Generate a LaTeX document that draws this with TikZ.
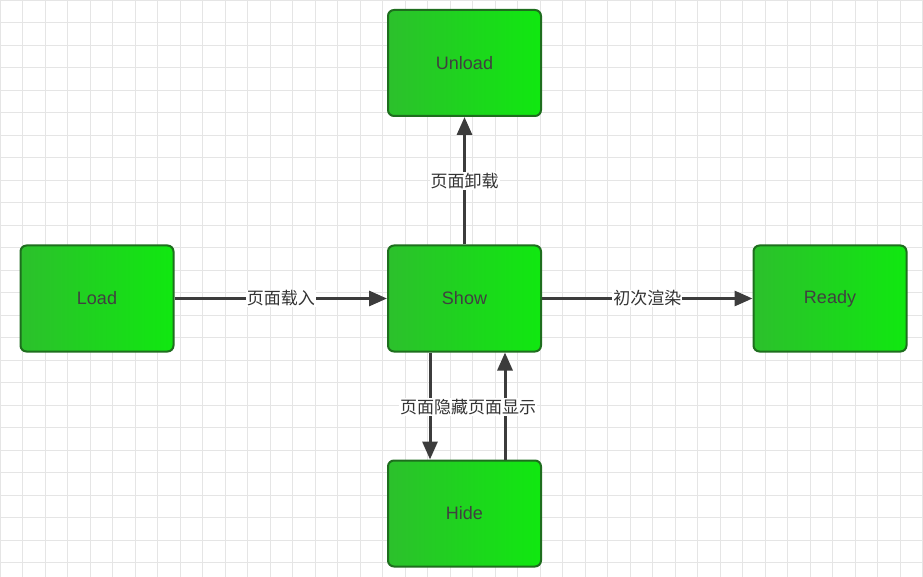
\documentclass[tikz,border=0pt]{standalone}
\usepackage{fontspec}
\setmainfont{Liberation Sans}
\newfontfamily\cjk{Noto Sans CJK SC}
\usetikzlibrary{arrows.meta}
\definecolor{gl}{HTML}{2CC02C}
\definecolor{gr}{HTML}{10E810}
\definecolor{gb}{HTML}{1E6E1E}
\definecolor{ln}{HTML}{3C3C3C}
\begin{document}
\begin{tikzpicture}[x=1pt,y=-1pt,
 box/.style={draw=gb,line width=2pt,rounded corners=6pt,left color=gl,right color=gr,minimum width=153pt,minimum height=106pt,font=\fontsize{18}{20}\selectfont,text=black!75},
 arr/.style={draw=ln,line width=3pt,-{Triangle[length=18pt,width=15pt]}},
 lab/.style={fill=white,inner sep=1pt,font=\cjk\fontsize{17}{19}\selectfont,text=black!80}]
\useasboundingbox (0,0) rectangle (923,577);
\fill[white] (0,0) rectangle (923,577);
\foreach \i in {0,...,41} \draw[black!10,line width=0.8pt] (\i*22.5,0) -- (\i*22.5,577);
\foreach \i in {0,...,26} \draw[black!10,line width=0.8pt] (0,\i*22.5) -- (923,\i*22.5);
\node[box] (unload) at (464.5,63) {Unload};
\node[box] (load) at (97,298.5) {Load};
\node[box] (show) at (464.5,298.5) {Show};
\node[box] (ready) at (830,298.5) {Ready};
\node[box] (hide) at (464.5,513.5) {Hide};
\draw[arr] (load) -- node[lab]{页面载入} (show);
\draw[arr] (show) -- node[lab]{初次渲染} (ready);
\draw[arr] (show) -- node[lab,pos=0.5]{页面卸载} (unload);
\draw[arr] (show.south-|430,0) -- (hide.north-|430,0);
\draw[arr] (hide.north-|505,0) -- (show.south-|505,0);
\node[lab] (hl) at (468,407) {页面隐藏页面显示};
\end{tikzpicture}
\end{document}
